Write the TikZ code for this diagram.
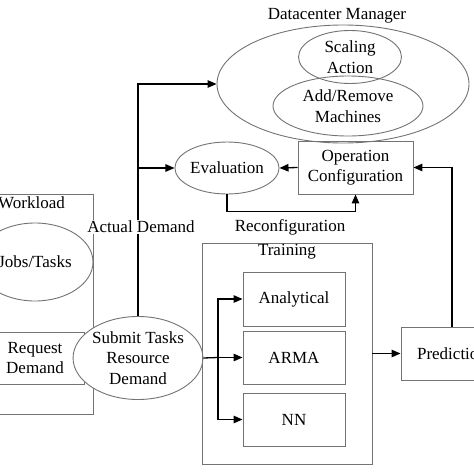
\documentclass[tikz,border=0pt]{standalone}
\usepackage{fontspec}
\setmainfont{Liberation Serif}
\usetikzlibrary{shapes.geometric,arrows.meta}
\begin{document}
\begin{tikzpicture}[x=1pt,y=-1pt,
  every node/.style={font=\fontsize{17}{20.5}\selectfont, align=center, inner sep=0pt},
  ell/.style={ellipse, draw=black!55, line width=0.9pt},
  boxx/.style={rectangle, draw=black!55, line width=0.9pt},
  lbl/.style={fill=none},
  arr/.style={draw=black, line width=1.3pt, -{Triangle[length=9pt,width=7.5pt]}},
  ln/.style={draw=black, line width=1.3pt}]
\useasboundingbox (0,0) rectangle (474,474);
\clip (0,0) rectangle (474,474);
% Datacenter manager
\node[ell, minimum width=252pt, minimum height=118pt] (dcm) at (343,84) {};
\node[lbl] (dcmlbl) at (337,16) {Datacenter Manager};
\node[ell, minimum width=103pt, minimum height=53pt] (scal) at (350,57) {Scaling\\Action};
\node[ell, minimum width=150pt, minimum height=60pt] (addrm) at (348,106) {Add/Remove\\Machines};
% evaluation and operation configuration
\node[ell, minimum width=102pt, minimum height=52pt] (eval) at (227,168) {Evaluation};
\node[boxx, minimum width=115pt, minimum height=53pt] (opconf) at (355.5,167.5) {Operation\\Configuration};
% workload
\node[boxx, minimum width=123pt, minimum height=220pt] (work) at (31.5,304) {};
\node[lbl] (worklbl) at (31.5,203) {Workload};
\node[ell, minimum width=116pt, minimum height=78pt] (jobs) at (35,262) {Jobs/Tasks};
\node[boxx, minimum width=98pt, minimum height=52pt] (req) at (35,358) {Request\\Demand};
\node[ell, fill=white, minimum width=125pt, minimum height=83pt] (submit) at (138,358) {Submit Tasks\\Resource\\Demand};
% training
\node[boxx, minimum width=170pt, minimum height=221pt] (train) at (287,353.5) {};
\node[lbl] (trainlbl) at (287,252) {Training};
\node[boxx, minimum width=102pt, minimum height=54pt] (anal) at (294,299) {Analytical};
\node[boxx, minimum width=102pt, minimum height=53pt] (arma) at (294,357.5) {ARMA};
\node[boxx, minimum width=102pt, minimum height=53pt] (nn) at (294,419.5) {NN};
\node[boxx, minimum width=102pt, minimum height=53pt] (pred) at (452,353.5) {Prediction};
\node[lbl] (reconf) at (290,227) {Reconfiguration};
% connectors
\coordinate (b1) at (138,168);
\coordinate (br) at (218,357.5);
\draw[arr] (submit.north) |- (dcm.west);
\node[fill=white, inner sep=1pt] (actual) at (141,227) {Actual Demand};
\draw[arr] (b1) -- (eval.west);
\draw[arr] (opconf.west) -- (eval.east);
\draw[arr] (eval.south) -- ++(0,17) -| (opconf.south);
\draw[arr] (pred.north) |- (opconf.east);
\draw[ln] (submit.east) -- (br);
\draw[arr] (br) |- (anal.west);
\draw[arr] (br) -- (arma.west);
\draw[arr] (br) |- (nn.west);
\draw[arr] (train.east) -- (pred.west);
\end{tikzpicture}
\end{document}
